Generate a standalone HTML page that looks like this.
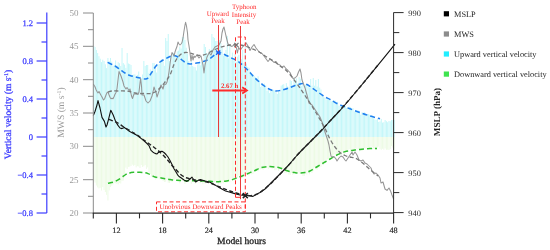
<!DOCTYPE html>
<html><head><meta charset="utf-8"><title>chart</title>
<style>html,body{margin:0;padding:0;background:#fff;}svg{display:block;}text{text-rendering:geometricPrecision;}</style>
</head><body>
<svg width="550" height="250" viewBox="0 0 550 250"><rect width="550" height="250" fill="#fff"/><g fill="#c4f7f9"><rect x="93.30" y="46.0" width="1.00" height="91.0"/><rect x="94.58" y="47.0" width="1.00" height="90.0"/><rect x="95.87" y="50.0" width="1.00" height="87.0"/><rect x="97.15" y="53.0" width="1.00" height="84.0"/><rect x="98.43" y="56.2" width="1.00" height="80.8"/><rect x="99.72" y="58.7" width="1.00" height="78.3"/><rect x="101.00" y="62.1" width="1.00" height="74.9"/><rect x="102.28" y="59.7" width="1.00" height="77.3"/><rect x="103.57" y="61.0" width="1.00" height="76.0"/><rect x="104.85" y="64.3" width="1.00" height="72.7"/><rect x="106.13" y="68.1" width="1.00" height="68.9"/><rect x="107.42" y="58.0" width="1.00" height="79.0"/><rect x="108.70" y="61.1" width="1.00" height="75.9"/><rect x="109.98" y="58.0" width="1.00" height="79.0"/><rect x="111.27" y="61.6" width="1.00" height="75.4"/><rect x="112.55" y="65.8" width="1.00" height="71.2"/><rect x="113.83" y="64.9" width="1.00" height="72.1"/><rect x="115.12" y="60.4" width="1.00" height="76.6"/><rect x="116.40" y="65.7" width="1.00" height="71.3"/><rect x="117.68" y="62.2" width="1.00" height="74.8"/><rect x="118.97" y="63.2" width="1.00" height="73.8"/><rect x="120.25" y="66.0" width="1.00" height="71.0"/><rect x="121.53" y="48.0" width="1.00" height="89.0"/><rect x="122.82" y="63.1" width="1.00" height="73.9"/><rect x="124.10" y="64.6" width="1.00" height="72.4"/><rect x="125.38" y="67.9" width="1.00" height="69.1"/><rect x="126.67" y="53.0" width="1.00" height="84.0"/><rect x="127.95" y="63.5" width="1.00" height="73.5"/><rect x="129.23" y="64.0" width="1.00" height="73.0"/><rect x="130.52" y="65.0" width="1.00" height="72.0"/><rect x="131.80" y="74.9" width="1.00" height="62.1"/><rect x="133.08" y="74.6" width="1.00" height="62.4"/><rect x="134.37" y="74.3" width="1.00" height="62.7"/><rect x="135.65" y="77.4" width="1.00" height="59.6"/><rect x="136.93" y="74.9" width="1.00" height="62.1"/><rect x="138.22" y="71.5" width="1.00" height="65.5"/><rect x="139.50" y="76.8" width="1.00" height="60.2"/><rect x="140.78" y="78.4" width="1.00" height="58.6"/><rect x="142.07" y="74.5" width="1.00" height="62.5"/><rect x="143.35" y="61.0" width="1.00" height="76.0"/><rect x="144.63" y="66.0" width="1.00" height="71.0"/><rect x="145.92" y="65.0" width="1.00" height="72.0"/><rect x="147.20" y="65.0" width="1.00" height="72.0"/><rect x="148.48" y="72.9" width="1.00" height="64.1"/><rect x="149.77" y="69.5" width="1.00" height="67.5"/><rect x="151.05" y="72.7" width="1.00" height="64.3"/><rect x="152.33" y="63.0" width="1.00" height="74.0"/><rect x="153.62" y="63.0" width="1.00" height="74.0"/><rect x="154.90" y="68.0" width="1.00" height="69.0"/><rect x="156.18" y="72.5" width="1.00" height="64.5"/><rect x="157.47" y="64.6" width="1.00" height="72.4"/><rect x="158.75" y="63.9" width="1.00" height="73.1"/><rect x="160.03" y="61.0" width="1.00" height="76.0"/><rect x="161.32" y="59.2" width="1.00" height="77.8"/><rect x="162.60" y="61.5" width="1.00" height="75.5"/><rect x="163.88" y="65.8" width="1.00" height="71.2"/><rect x="165.17" y="38.0" width="1.00" height="99.0"/><rect x="166.45" y="41.0" width="1.00" height="96.0"/><rect x="167.73" y="34.0" width="1.00" height="103.0"/><rect x="169.02" y="61.2" width="1.00" height="75.8"/><rect x="170.30" y="56.4" width="1.00" height="80.6"/><rect x="171.58" y="53.5" width="1.00" height="83.5"/><rect x="172.87" y="52.9" width="1.00" height="84.1"/><rect x="174.15" y="53.9" width="1.00" height="83.1"/><rect x="175.43" y="54.7" width="1.00" height="82.3"/><rect x="176.72" y="51.3" width="1.00" height="85.7"/><rect x="178.00" y="50.6" width="1.00" height="86.4"/><rect x="179.28" y="46.5" width="1.00" height="90.5"/><rect x="180.57" y="48.5" width="1.00" height="88.5"/><rect x="181.85" y="37.0" width="1.00" height="100.0"/><rect x="183.13" y="37.0" width="1.00" height="100.0"/><rect x="184.42" y="40.0" width="1.00" height="97.0"/><rect x="185.70" y="47.7" width="1.00" height="89.3"/><rect x="186.98" y="53.9" width="1.00" height="83.1"/><rect x="188.27" y="60.9" width="1.00" height="76.1"/><rect x="189.55" y="66.5" width="1.00" height="70.5"/><rect x="190.83" y="60.5" width="1.00" height="76.5"/><rect x="192.12" y="66.1" width="1.00" height="70.9"/><rect x="193.40" y="66.8" width="1.00" height="70.2"/><rect x="194.68" y="67.3" width="1.00" height="69.7"/><rect x="195.97" y="70.5" width="1.00" height="66.5"/><rect x="197.25" y="64.5" width="1.00" height="72.5"/><rect x="198.53" y="63.0" width="1.00" height="74.0"/><rect x="199.82" y="65.3" width="1.00" height="71.7"/><rect x="201.10" y="61.6" width="1.00" height="75.4"/><rect x="202.38" y="64.0" width="1.00" height="73.0"/><rect x="203.67" y="44.0" width="1.00" height="93.0"/><rect x="204.95" y="47.0" width="1.00" height="90.0"/><rect x="206.23" y="53.4" width="1.00" height="83.6"/><rect x="207.52" y="53.2" width="1.00" height="83.8"/><rect x="208.80" y="49.0" width="1.00" height="88.0"/><rect x="210.08" y="50.1" width="1.00" height="86.9"/><rect x="211.37" y="34.0" width="1.00" height="103.0"/><rect x="212.65" y="37.0" width="1.00" height="100.0"/><rect x="213.93" y="38.0" width="1.00" height="99.0"/><rect x="215.22" y="41.0" width="1.00" height="96.0"/><rect x="216.50" y="41.0" width="1.00" height="96.0"/><rect x="217.78" y="51.6" width="1.00" height="85.4"/><rect x="219.07" y="40.0" width="1.00" height="97.0"/><rect x="220.35" y="43.0" width="1.00" height="94.0"/><rect x="221.63" y="47.6" width="1.00" height="89.4"/><rect x="222.92" y="55.6" width="1.00" height="81.4"/><rect x="224.20" y="54.6" width="1.00" height="82.4"/><rect x="225.48" y="50.0" width="1.00" height="87.0"/><rect x="226.77" y="36.0" width="1.00" height="101.0"/><rect x="228.05" y="58.2" width="1.00" height="78.8"/><rect x="229.33" y="46.0" width="1.00" height="91.0"/><rect x="230.62" y="57.2" width="1.00" height="79.8"/><rect x="231.90" y="52.6" width="1.00" height="84.4"/><rect x="233.18" y="60.4" width="1.00" height="76.6"/><rect x="234.47" y="54.3" width="1.00" height="82.7"/><rect x="235.75" y="62.1" width="1.00" height="74.9"/><rect x="237.03" y="56.7" width="1.00" height="80.3"/><rect x="238.32" y="54.9" width="1.00" height="82.1"/><rect x="239.60" y="62.8" width="1.00" height="74.2"/><rect x="240.88" y="59.3" width="1.00" height="77.7"/><rect x="242.17" y="50.0" width="1.00" height="87.0"/><rect x="243.45" y="63.0" width="1.00" height="74.0"/><rect x="244.73" y="45.0" width="1.00" height="92.0"/><rect x="246.02" y="63.5" width="1.00" height="73.5"/><rect x="247.30" y="66.8" width="1.00" height="70.2"/><rect x="248.58" y="67.8" width="1.00" height="69.2"/><rect x="249.87" y="71.5" width="1.00" height="65.5"/><rect x="251.15" y="74.6" width="1.00" height="62.4"/><rect x="252.43" y="74.1" width="1.00" height="62.9"/><rect x="253.72" y="75.9" width="1.00" height="61.1"/><rect x="255.00" y="77.4" width="1.00" height="59.6"/><rect x="256.28" y="78.3" width="1.00" height="58.7"/><rect x="257.57" y="76.2" width="1.00" height="60.8"/><rect x="258.85" y="80.3" width="1.00" height="56.7"/><rect x="260.13" y="86.9" width="1.00" height="50.1"/><rect x="261.42" y="84.1" width="1.00" height="52.9"/><rect x="262.70" y="86.9" width="1.00" height="50.1"/><rect x="263.98" y="83.6" width="1.00" height="53.4"/><rect x="265.27" y="85.5" width="1.00" height="51.5"/><rect x="266.55" y="90.8" width="1.00" height="46.2"/><rect x="267.83" y="89.4" width="1.00" height="47.6"/><rect x="269.12" y="93.1" width="1.00" height="43.9"/><rect x="270.40" y="90.7" width="1.00" height="46.3"/><rect x="271.68" y="90.0" width="1.00" height="47.0"/><rect x="272.97" y="89.8" width="1.00" height="47.2"/><rect x="274.25" y="90.3" width="1.00" height="46.7"/><rect x="275.53" y="92.1" width="1.00" height="44.9"/><rect x="276.82" y="94.0" width="1.00" height="43.0"/><rect x="278.10" y="90.3" width="1.00" height="46.7"/><rect x="279.38" y="92.6" width="1.00" height="44.4"/><rect x="280.67" y="85.6" width="1.00" height="51.4"/><rect x="281.95" y="84.7" width="1.00" height="52.3"/><rect x="283.23" y="84.2" width="1.00" height="52.8"/><rect x="284.52" y="90.0" width="1.00" height="47.0"/><rect x="285.80" y="83.1" width="1.00" height="53.9"/><rect x="287.08" y="86.4" width="1.00" height="50.6"/><rect x="288.37" y="87.1" width="1.00" height="49.9"/><rect x="289.65" y="79.9" width="1.00" height="57.1"/><rect x="290.93" y="81.0" width="1.00" height="56.0"/><rect x="292.22" y="85.8" width="1.00" height="51.2"/><rect x="293.50" y="77.9" width="1.00" height="59.1"/><rect x="294.78" y="80.8" width="1.00" height="56.2"/><rect x="296.07" y="78.4" width="1.00" height="58.6"/><rect x="297.35" y="83.6" width="1.00" height="53.4"/><rect x="298.63" y="77.0" width="1.00" height="60.0"/><rect x="299.92" y="78.7" width="1.00" height="58.3"/><rect x="301.20" y="85.9" width="1.00" height="51.1"/><rect x="302.48" y="82.6" width="1.00" height="54.4"/><rect x="303.77" y="89.9" width="1.00" height="47.1"/><rect x="305.05" y="84.6" width="1.00" height="52.4"/><rect x="306.33" y="84.4" width="1.00" height="52.6"/><rect x="307.62" y="86.4" width="1.00" height="50.6"/><rect x="308.90" y="87.8" width="1.00" height="49.2"/><rect x="310.18" y="79.0" width="1.00" height="58.0"/><rect x="311.47" y="85.7" width="1.00" height="51.3"/><rect x="312.75" y="78.0" width="1.00" height="59.0"/><rect x="314.03" y="85.7" width="1.00" height="51.3"/><rect x="315.32" y="80.0" width="1.00" height="57.0"/><rect x="316.60" y="86.5" width="1.00" height="50.5"/><rect x="317.88" y="79.0" width="1.00" height="58.0"/><rect x="319.17" y="87.6" width="1.00" height="49.4"/><rect x="320.45" y="89.5" width="1.00" height="47.5"/><rect x="321.73" y="95.5" width="1.00" height="41.5"/><rect x="323.02" y="97.2" width="1.00" height="39.8"/><rect x="324.30" y="97.4" width="1.00" height="39.6"/><rect x="325.58" y="99.6" width="1.00" height="37.4"/><rect x="326.87" y="98.1" width="1.00" height="38.9"/><rect x="328.15" y="98.0" width="1.00" height="39.0"/><rect x="329.43" y="99.2" width="1.00" height="37.8"/><rect x="330.72" y="101.4" width="1.00" height="35.6"/><rect x="332.00" y="100.8" width="1.00" height="36.2"/><rect x="333.28" y="100.5" width="1.00" height="36.5"/><rect x="334.57" y="100.5" width="1.00" height="36.5"/><rect x="335.85" y="103.2" width="1.00" height="33.8"/><rect x="337.13" y="101.8" width="1.00" height="35.2"/><rect x="338.42" y="105.6" width="1.00" height="31.4"/><rect x="339.70" y="105.9" width="1.00" height="31.1"/><rect x="340.98" y="105.1" width="1.00" height="31.9"/><rect x="342.27" y="105.2" width="1.00" height="31.8"/><rect x="343.55" y="106.9" width="1.00" height="30.1"/><rect x="344.83" y="106.0" width="1.00" height="31.0"/><rect x="346.12" y="108.0" width="1.00" height="29.0"/><rect x="347.40" y="107.3" width="1.00" height="29.7"/><rect x="348.68" y="106.4" width="1.00" height="30.6"/><rect x="349.97" y="107.0" width="1.00" height="30.0"/><rect x="351.25" y="108.2" width="1.00" height="28.8"/><rect x="352.53" y="108.1" width="1.00" height="28.9"/><rect x="353.82" y="111.7" width="1.00" height="25.3"/><rect x="355.10" y="109.9" width="1.00" height="27.1"/><rect x="356.38" y="110.4" width="1.00" height="26.6"/><rect x="357.67" y="110.4" width="1.00" height="26.6"/><rect x="358.95" y="111.3" width="1.00" height="25.7"/><rect x="360.23" y="114.7" width="1.00" height="22.3"/><rect x="361.52" y="112.3" width="1.00" height="24.7"/><rect x="362.80" y="113.1" width="1.00" height="23.9"/><rect x="364.08" y="112.3" width="1.00" height="24.7"/><rect x="365.37" y="114.7" width="1.00" height="22.3"/><rect x="366.65" y="114.2" width="1.00" height="22.8"/><rect x="367.93" y="113.9" width="1.00" height="23.1"/><rect x="369.22" y="114.7" width="1.00" height="22.3"/><rect x="370.50" y="115.1" width="1.00" height="21.9"/><rect x="371.78" y="116.6" width="1.00" height="20.4"/><rect x="373.07" y="118.3" width="1.00" height="18.7"/><rect x="374.35" y="119.4" width="1.00" height="17.6"/><rect x="375.63" y="119.8" width="1.00" height="17.2"/><rect x="376.92" y="119.0" width="1.00" height="18.0"/><rect x="378.20" y="121.9" width="1.00" height="15.1"/><rect x="379.48" y="121.4" width="1.00" height="15.6"/><rect x="380.77" y="118.9" width="1.00" height="18.1"/><rect x="382.05" y="122.6" width="1.00" height="14.4"/><rect x="383.33" y="122.2" width="1.00" height="14.8"/><rect x="384.62" y="120.0" width="1.00" height="17.0"/><rect x="385.90" y="121.2" width="1.00" height="15.8"/><rect x="387.18" y="122.2" width="1.00" height="14.8"/><rect x="388.47" y="121.0" width="1.00" height="16.0"/><rect x="389.75" y="121.3" width="1.00" height="15.7"/><rect x="391.03" y="119.9" width="1.00" height="17.1"/><rect x="392.32" y="120.0" width="1.00" height="17.0"/><rect x="393.60" y="119.9" width="1.00" height="17.1"/></g><g fill="#edfbe5"><rect x="93.30" y="137.0" width="1.00" height="44.2"/><rect x="94.58" y="137.0" width="1.00" height="45.6"/><rect x="95.87" y="137.0" width="1.00" height="48.5"/><rect x="97.15" y="137.0" width="1.00" height="50.4"/><rect x="98.43" y="137.0" width="1.00" height="51.4"/><rect x="99.72" y="137.0" width="1.00" height="50.8"/><rect x="101.00" y="137.0" width="1.00" height="53.5"/><rect x="102.28" y="137.0" width="1.00" height="50.1"/><rect x="103.57" y="137.0" width="1.00" height="53.0"/><rect x="104.85" y="137.0" width="1.00" height="55.0"/><rect x="106.13" y="137.0" width="1.00" height="57.9"/><rect x="107.42" y="137.0" width="1.00" height="63.5"/><rect x="108.70" y="137.0" width="1.00" height="53.4"/><rect x="109.98" y="137.0" width="1.00" height="50.1"/><rect x="111.27" y="137.0" width="1.00" height="48.7"/><rect x="112.55" y="137.0" width="1.00" height="47.4"/><rect x="113.83" y="137.0" width="1.00" height="45.7"/><rect x="115.12" y="137.0" width="1.00" height="46.2"/><rect x="116.40" y="137.0" width="1.00" height="46.9"/><rect x="117.68" y="137.0" width="1.00" height="47.4"/><rect x="118.97" y="137.0" width="1.00" height="45.9"/><rect x="120.25" y="137.0" width="1.00" height="46.5"/><rect x="121.53" y="137.0" width="1.00" height="44.0"/><rect x="122.82" y="137.0" width="1.00" height="43.5"/><rect x="124.10" y="137.0" width="1.00" height="37.1"/><rect x="125.38" y="137.0" width="1.00" height="30.6"/><rect x="126.67" y="137.0" width="1.00" height="32.0"/><rect x="127.95" y="137.0" width="1.00" height="29.9"/><rect x="129.23" y="137.0" width="1.00" height="29.7"/><rect x="130.52" y="137.0" width="1.00" height="29.0"/><rect x="131.80" y="137.0" width="1.00" height="27.7"/><rect x="133.08" y="137.0" width="1.00" height="28.8"/><rect x="134.37" y="137.0" width="1.00" height="28.1"/><rect x="135.65" y="137.0" width="1.00" height="30.4"/><rect x="136.93" y="137.0" width="1.00" height="29.2"/><rect x="138.22" y="137.0" width="1.00" height="29.5"/><rect x="139.50" y="137.0" width="1.00" height="31.0"/><rect x="140.78" y="137.0" width="1.00" height="28.0"/><rect x="142.07" y="137.0" width="1.00" height="30.0"/><rect x="143.35" y="137.0" width="1.00" height="29.3"/><rect x="144.63" y="137.0" width="1.00" height="28.1"/><rect x="145.92" y="137.0" width="1.00" height="31.9"/><rect x="147.20" y="137.0" width="1.00" height="30.4"/><rect x="148.48" y="137.0" width="1.00" height="35.9"/><rect x="149.77" y="137.0" width="1.00" height="36.7"/><rect x="151.05" y="137.0" width="1.00" height="39.7"/><rect x="152.33" y="137.0" width="1.00" height="40.7"/><rect x="153.62" y="137.0" width="1.00" height="39.7"/><rect x="154.90" y="137.0" width="1.00" height="42.6"/><rect x="156.18" y="137.0" width="1.00" height="39.9"/><rect x="157.47" y="137.0" width="1.00" height="40.7"/><rect x="158.75" y="137.0" width="1.00" height="42.4"/><rect x="160.03" y="137.0" width="1.00" height="41.8"/><rect x="161.32" y="137.0" width="1.00" height="42.9"/><rect x="162.60" y="137.0" width="1.00" height="44.0"/><rect x="163.88" y="137.0" width="1.00" height="44.9"/><rect x="165.17" y="137.0" width="1.00" height="44.8"/><rect x="166.45" y="137.0" width="1.00" height="42.4"/><rect x="167.73" y="137.0" width="1.00" height="45.8"/><rect x="169.02" y="137.0" width="1.00" height="46.0"/><rect x="170.30" y="137.0" width="1.00" height="44.2"/><rect x="171.58" y="137.0" width="1.00" height="45.1"/><rect x="172.87" y="137.0" width="1.00" height="42.5"/><rect x="174.15" y="137.0" width="1.00" height="42.8"/><rect x="175.43" y="137.0" width="1.00" height="42.3"/><rect x="176.72" y="137.0" width="1.00" height="42.9"/><rect x="178.00" y="137.0" width="1.00" height="44.0"/><rect x="179.28" y="137.0" width="1.00" height="46.4"/><rect x="180.57" y="137.0" width="1.00" height="43.2"/><rect x="181.85" y="137.0" width="1.00" height="44.1"/><rect x="183.13" y="137.0" width="1.00" height="43.1"/><rect x="184.42" y="137.0" width="1.00" height="47.0"/><rect x="185.70" y="137.0" width="1.00" height="44.7"/><rect x="186.98" y="137.0" width="1.00" height="43.0"/><rect x="188.27" y="137.0" width="1.00" height="43.7"/><rect x="189.55" y="137.0" width="1.00" height="43.2"/><rect x="190.83" y="137.0" width="1.00" height="46.8"/><rect x="192.12" y="137.0" width="1.00" height="43.2"/><rect x="193.40" y="137.0" width="1.00" height="42.6"/><rect x="194.68" y="137.0" width="1.00" height="46.9"/><rect x="195.97" y="137.0" width="1.00" height="45.6"/><rect x="197.25" y="137.0" width="1.00" height="44.2"/><rect x="198.53" y="137.0" width="1.00" height="46.0"/><rect x="199.82" y="137.0" width="1.00" height="46.0"/><rect x="201.10" y="137.0" width="1.00" height="43.7"/><rect x="202.38" y="137.0" width="1.00" height="47.2"/><rect x="203.67" y="137.0" width="1.00" height="46.5"/><rect x="204.95" y="137.0" width="1.00" height="46.4"/><rect x="206.23" y="137.0" width="1.00" height="45.5"/><rect x="207.52" y="137.0" width="1.00" height="43.4"/><rect x="208.80" y="137.0" width="1.00" height="44.7"/><rect x="210.08" y="137.0" width="1.00" height="46.6"/><rect x="211.37" y="137.0" width="1.00" height="45.5"/><rect x="212.65" y="137.0" width="1.00" height="47.9"/><rect x="213.93" y="137.0" width="1.00" height="45.1"/><rect x="215.22" y="137.0" width="1.00" height="44.5"/><rect x="216.50" y="137.0" width="1.00" height="44.4"/><rect x="217.78" y="137.0" width="1.00" height="47.6"/><rect x="219.07" y="137.0" width="1.00" height="45.7"/><rect x="220.35" y="137.0" width="1.00" height="46.9"/><rect x="221.63" y="137.0" width="1.00" height="46.0"/><rect x="222.92" y="137.0" width="1.00" height="46.3"/><rect x="224.20" y="137.0" width="1.00" height="44.7"/><rect x="225.48" y="137.0" width="1.00" height="45.8"/><rect x="226.77" y="137.0" width="1.00" height="45.4"/><rect x="228.05" y="137.0" width="1.00" height="43.2"/><rect x="229.33" y="137.0" width="1.00" height="45.3"/><rect x="230.62" y="137.0" width="1.00" height="41.4"/><rect x="231.90" y="137.0" width="1.00" height="41.0"/><rect x="233.18" y="137.0" width="1.00" height="43.5"/><rect x="234.47" y="137.0" width="1.00" height="43.2"/><rect x="235.75" y="137.0" width="1.00" height="42.1"/><rect x="237.03" y="137.0" width="1.00" height="41.2"/><rect x="238.32" y="137.0" width="1.00" height="38.4"/><rect x="239.60" y="137.0" width="1.00" height="40.9"/><rect x="240.88" y="137.0" width="1.00" height="41.6"/><rect x="242.17" y="137.0" width="1.00" height="40.9"/><rect x="243.45" y="137.0" width="1.00" height="37.4"/><rect x="244.73" y="137.0" width="1.00" height="37.2"/><rect x="246.02" y="137.0" width="1.00" height="38.0"/><rect x="247.30" y="137.0" width="1.00" height="36.8"/><rect x="248.58" y="137.0" width="1.00" height="38.5"/><rect x="249.87" y="137.0" width="1.00" height="35.9"/><rect x="251.15" y="137.0" width="1.00" height="37.4"/><rect x="252.43" y="137.0" width="1.00" height="37.0"/><rect x="253.72" y="137.0" width="1.00" height="34.7"/><rect x="255.00" y="137.0" width="1.00" height="31.9"/><rect x="256.28" y="137.0" width="1.00" height="32.1"/><rect x="257.57" y="137.0" width="1.00" height="34.4"/><rect x="258.85" y="137.0" width="1.00" height="32.4"/><rect x="260.13" y="137.0" width="1.00" height="32.4"/><rect x="261.42" y="137.0" width="1.00" height="31.9"/><rect x="262.70" y="137.0" width="1.00" height="32.9"/><rect x="263.98" y="137.0" width="1.00" height="31.6"/><rect x="265.27" y="137.0" width="1.00" height="30.2"/><rect x="266.55" y="137.0" width="1.00" height="31.1"/><rect x="267.83" y="137.0" width="1.00" height="32.1"/><rect x="269.12" y="137.0" width="1.00" height="30.5"/><rect x="270.40" y="137.0" width="1.00" height="30.9"/><rect x="271.68" y="137.0" width="1.00" height="31.8"/><rect x="272.97" y="137.0" width="1.00" height="31.2"/><rect x="274.25" y="137.0" width="1.00" height="33.2"/><rect x="275.53" y="137.0" width="1.00" height="33.2"/><rect x="276.82" y="137.0" width="1.00" height="30.6"/><rect x="278.10" y="137.0" width="1.00" height="34.0"/><rect x="279.38" y="137.0" width="1.00" height="30.6"/><rect x="280.67" y="137.0" width="1.00" height="32.5"/><rect x="281.95" y="137.0" width="1.00" height="32.1"/><rect x="283.23" y="137.0" width="1.00" height="34.5"/><rect x="284.52" y="137.0" width="1.00" height="36.0"/><rect x="285.80" y="137.0" width="1.00" height="35.6"/><rect x="287.08" y="137.0" width="1.00" height="33.4"/><rect x="288.37" y="137.0" width="1.00" height="37.5"/><rect x="289.65" y="137.0" width="1.00" height="37.8"/><rect x="290.93" y="137.0" width="1.00" height="36.0"/><rect x="292.22" y="137.0" width="1.00" height="37.8"/><rect x="293.50" y="137.0" width="1.00" height="36.2"/><rect x="294.78" y="137.0" width="1.00" height="36.1"/><rect x="296.07" y="137.0" width="1.00" height="36.1"/><rect x="297.35" y="137.0" width="1.00" height="34.9"/><rect x="298.63" y="137.0" width="1.00" height="36.9"/><rect x="299.92" y="137.0" width="1.00" height="36.5"/><rect x="301.20" y="137.0" width="1.00" height="37.1"/><rect x="302.48" y="137.0" width="1.00" height="39.1"/><rect x="303.77" y="137.0" width="1.00" height="38.9"/><rect x="305.05" y="137.0" width="1.00" height="35.5"/><rect x="306.33" y="137.0" width="1.00" height="37.5"/><rect x="307.62" y="137.0" width="1.00" height="34.1"/><rect x="308.90" y="137.0" width="1.00" height="37.3"/><rect x="310.18" y="137.0" width="1.00" height="33.8"/><rect x="311.47" y="137.0" width="1.00" height="36.0"/><rect x="312.75" y="137.0" width="1.00" height="34.2"/><rect x="314.03" y="137.0" width="1.00" height="30.5"/><rect x="315.32" y="137.0" width="1.00" height="31.3"/><rect x="316.60" y="137.0" width="1.00" height="32.8"/><rect x="317.88" y="137.0" width="1.00" height="31.2"/><rect x="319.17" y="137.0" width="1.00" height="30.6"/><rect x="320.45" y="137.0" width="1.00" height="29.7"/><rect x="321.73" y="137.0" width="1.00" height="26.5"/><rect x="323.02" y="137.0" width="1.00" height="28.2"/><rect x="324.30" y="137.0" width="1.00" height="23.7"/><rect x="325.58" y="137.0" width="1.00" height="23.4"/><rect x="326.87" y="137.0" width="1.00" height="22.3"/><rect x="328.15" y="137.0" width="1.00" height="21.7"/><rect x="329.43" y="137.0" width="1.00" height="21.4"/><rect x="330.72" y="137.0" width="1.00" height="20.6"/><rect x="332.00" y="137.0" width="1.00" height="19.3"/><rect x="333.28" y="137.0" width="1.00" height="17.8"/><rect x="334.57" y="137.0" width="1.00" height="17.0"/><rect x="335.85" y="137.0" width="1.00" height="18.8"/><rect x="337.13" y="137.0" width="1.00" height="17.8"/><rect x="338.42" y="137.0" width="1.00" height="15.5"/><rect x="339.70" y="137.0" width="1.00" height="16.4"/><rect x="340.98" y="137.0" width="1.00" height="17.7"/><rect x="342.27" y="137.0" width="1.00" height="15.7"/><rect x="343.55" y="137.0" width="1.00" height="17.3"/><rect x="344.83" y="137.0" width="1.00" height="16.2"/><rect x="346.12" y="137.0" width="1.00" height="15.0"/><rect x="347.40" y="137.0" width="1.00" height="13.5"/><rect x="348.68" y="137.0" width="1.00" height="12.2"/><rect x="349.97" y="137.0" width="1.00" height="14.7"/><rect x="351.25" y="137.0" width="1.00" height="11.9"/><rect x="352.53" y="137.0" width="1.00" height="14.7"/><rect x="353.82" y="137.0" width="1.00" height="13.7"/><rect x="355.10" y="137.0" width="1.00" height="11.5"/><rect x="356.38" y="137.0" width="1.00" height="12.4"/><rect x="357.67" y="137.0" width="1.00" height="12.2"/><rect x="358.95" y="137.0" width="1.00" height="14.4"/><rect x="360.23" y="137.0" width="1.00" height="12.4"/><rect x="361.52" y="137.0" width="1.00" height="14.1"/><rect x="362.80" y="137.0" width="1.00" height="11.3"/><rect x="364.08" y="137.0" width="1.00" height="11.3"/><rect x="365.37" y="137.0" width="1.00" height="11.7"/><rect x="366.65" y="137.0" width="1.00" height="11.6"/><rect x="367.93" y="137.0" width="1.00" height="10.3"/><rect x="369.22" y="137.0" width="1.00" height="10.8"/><rect x="370.50" y="137.0" width="1.00" height="9.1"/><rect x="371.78" y="137.0" width="1.00" height="10.0"/><rect x="373.07" y="137.0" width="1.00" height="11.4"/><rect x="374.35" y="137.0" width="1.00" height="12.0"/><rect x="375.63" y="137.0" width="1.00" height="13.0"/><rect x="376.92" y="137.0" width="1.00" height="10.5"/><rect x="378.20" y="137.0" width="1.00" height="9.7"/><rect x="379.48" y="137.0" width="1.00" height="11.9"/><rect x="380.77" y="137.0" width="1.00" height="12.8"/><rect x="382.05" y="137.0" width="1.00" height="11.8"/><rect x="383.33" y="137.0" width="1.00" height="12.7"/><rect x="384.62" y="137.0" width="1.00" height="11.4"/><rect x="385.90" y="137.0" width="1.00" height="12.8"/><rect x="387.18" y="137.0" width="1.00" height="12.7"/><rect x="388.47" y="137.0" width="1.00" height="13.0"/><rect x="389.75" y="137.0" width="1.00" height="12.1"/><rect x="391.03" y="137.0" width="1.00" height="9.1"/><rect x="392.32" y="137.0" width="1.00" height="10.6"/><rect x="393.60" y="137.0" width="1.00" height="12.8"/></g><path d="M107.6,62.4 C108.8,63.0 112.9,64.8 115.0,66.0 C117.1,67.2 118.3,68.3 120.0,69.5 C121.7,70.7 123.3,72.0 125.0,73.0 C126.7,74.0 128.3,74.9 130.0,75.5 C131.7,76.1 133.3,76.4 135.0,76.8 C136.7,77.2 138.3,77.6 140.0,78.0 C141.7,78.4 143.7,79.0 145.0,79.0 C146.3,79.0 146.8,79.2 148.0,78.0 C149.2,76.8 150.7,74.0 152.0,72.0 C153.3,70.0 154.7,67.7 156.0,66.0 C157.3,64.3 158.5,63.2 160.0,62.0 C161.5,60.8 163.3,59.9 165.0,59.0 C166.7,58.1 168.5,57.1 170.0,56.5 C171.5,55.9 172.7,55.4 174.0,55.5 C175.3,55.6 176.7,56.2 178.0,57.0 C179.3,57.8 180.7,59.0 182.0,60.0 C183.3,61.0 184.7,62.3 186.0,63.0 C187.3,63.7 188.5,64.0 190.0,64.0 C191.5,64.0 193.3,63.6 195.0,63.3 C196.7,63.0 198.3,62.8 200.0,62.4 C201.7,62.0 203.3,61.6 205.0,61.0 C206.7,60.4 208.3,59.6 210.0,58.5 C211.7,57.4 213.7,55.5 215.0,54.5 C216.3,53.5 216.8,52.7 218.0,52.5 C219.2,52.3 220.5,52.8 222.0,53.3 C223.5,53.8 225.3,55.0 227.0,55.8 C228.7,56.6 230.3,57.5 232.0,58.3 C233.7,59.1 235.7,60.0 237.0,60.8 C238.3,61.5 239.0,62.0 240.0,62.8 C241.0,63.6 241.8,64.4 243.0,65.5 C244.2,66.6 245.8,68.1 247.0,69.3 C248.2,70.5 248.7,71.0 250.0,72.5 C251.3,74.0 253.3,76.3 255.0,78.0 C256.7,79.7 258.3,81.1 260.0,82.5 C261.7,83.9 263.3,85.3 265.0,86.5 C266.7,87.7 268.3,88.8 270.0,89.5 C271.7,90.2 273.3,90.8 275.0,91.0 C276.7,91.2 278.3,90.9 280.0,90.6 C281.7,90.3 283.3,89.8 285.0,89.3 C286.7,88.8 288.3,88.1 290.0,87.5 C291.7,86.9 293.3,86.1 295.0,85.5 C296.7,84.9 298.7,84.3 300.0,84.0 C301.3,83.7 301.8,83.4 303.0,83.5 C304.2,83.6 305.8,84.0 307.0,84.5 C308.2,85.0 308.7,85.6 310.0,86.5 C311.3,87.4 313.3,88.8 315.0,90.0 C316.7,91.2 318.3,92.3 320.0,93.5 C321.7,94.7 323.3,96.0 325.0,97.0 C326.7,98.0 328.0,98.2 330.0,99.3 C332.0,100.4 334.5,102.2 337.0,103.5 C339.5,104.8 342.8,105.9 345.0,106.8 C347.2,107.7 347.5,107.8 350.0,108.8 C352.5,109.8 356.7,111.4 360.0,112.6 C363.3,113.8 366.7,115.0 370.0,116.0 C373.3,117.0 378.3,118.3 380.0,118.8" fill="none" stroke="#1f7fef" stroke-width="1.5" stroke-dasharray="5 3"/><path d="M108.0,183.2 C109.2,182.9 112.8,182.4 115.0,181.5 C117.2,180.6 119.3,179.1 121.0,178.0 C122.7,176.9 123.8,175.8 125.0,175.0 C126.2,174.2 127.0,173.7 128.0,173.3 C129.0,172.9 129.8,172.8 131.0,172.6 C132.2,172.4 133.5,172.4 135.0,172.3 C136.5,172.2 138.3,172.2 140.0,172.3 C141.7,172.4 143.7,172.6 145.0,172.8 C146.3,173.0 147.0,173.2 148.0,173.6 C149.0,174.0 149.8,174.4 151.0,175.0 C152.2,175.6 153.5,176.5 155.0,177.0 C156.5,177.5 158.3,177.5 160.0,177.8 C161.7,178.1 163.3,178.5 165.0,178.8 C166.7,179.1 168.3,179.4 170.0,179.6 C171.7,179.8 173.3,180.0 175.0,180.2 C176.7,180.3 178.2,180.4 180.0,180.5 C181.8,180.6 184.3,180.8 186.0,180.8 C187.7,180.9 188.5,180.8 190.0,180.8 C191.5,180.8 193.3,180.8 195.0,180.8 C196.7,180.8 198.3,180.9 200.0,180.9 C201.7,180.9 203.3,180.9 205.0,181.0 C206.7,181.1 208.3,181.2 210.0,181.3 C211.7,181.4 213.3,181.8 215.0,181.8 C216.7,181.9 218.3,181.7 220.0,181.6 C221.7,181.5 223.3,181.4 225.0,181.2 C226.7,181.0 228.3,180.6 230.0,180.2 C231.7,179.8 233.3,179.2 235.0,178.6 C236.7,178.0 238.3,177.4 240.0,176.8 C241.7,176.2 243.3,175.5 245.0,174.8 C246.7,174.1 248.3,173.3 250.0,172.6 C251.7,171.9 253.3,171.3 255.0,170.5 C256.7,169.7 258.3,168.6 260.0,168.0 C261.7,167.4 263.3,167.2 265.0,167.0 C266.7,166.8 268.3,166.6 270.0,166.6 C271.7,166.6 273.3,166.8 275.0,167.0 C276.7,167.2 278.3,167.5 280.0,168.0 C281.7,168.5 283.3,169.4 285.0,170.0 C286.7,170.6 288.3,171.2 290.0,171.6 C291.7,172.0 293.3,172.4 295.0,172.6 C296.7,172.8 298.3,173.0 300.0,173.0 C301.7,173.0 303.3,172.9 305.0,172.6 C306.7,172.3 308.3,171.8 310.0,171.0 C311.7,170.2 313.3,169.0 315.0,168.0 C316.7,167.0 318.3,166.0 320.0,165.0 C321.7,164.0 323.3,163.0 325.0,162.0 C326.7,161.0 328.3,160.0 330.0,159.0 C331.7,158.0 333.3,156.9 335.0,156.0 C336.7,155.1 338.3,154.3 340.0,153.6 C341.7,152.9 343.3,152.1 345.0,151.6 C346.7,151.1 348.3,150.9 350.0,150.6 C351.7,150.3 353.3,150.2 355.0,150.0 C356.7,149.8 358.3,149.6 360.0,149.4 C361.7,149.2 363.3,149.1 365.0,149.0 C366.7,148.9 368.3,148.7 370.0,148.6 C371.7,148.5 373.8,148.4 375.0,148.4 C376.2,148.4 376.7,148.4 377.0,148.4" fill="none" stroke="#2fbf2f" stroke-width="1.5" stroke-dasharray="5 3"/><path d="M93.3,84.0 L95.0,86.7 L96.0,89.5 L97.0,91.5 L98.0,92.9 L99.0,91.5 L100.0,93.4 L101.0,95.3 L102.0,97.0 L103.5,100.0 L104.5,99.0 L106.0,95.0 L107.0,92.6 L108.0,92.0 L109.0,94.8 L110.0,97.2 L111.0,98.7 L112.0,98.2 L113.0,98.7 L114.0,96.8 L115.0,94.3 L116.0,92.4 L117.0,88.6 L118.0,80.0 L119.0,71.5 L121.0,76.0 L123.0,82.0 L124.0,86.0 L126.0,89.0 L127.0,87.5 L129.0,90.5 L130.0,89.0 L131.5,96.0 L132.5,98.5 L134.0,94.0 L136.0,94.0 L138.0,94.5 L139.0,92.0 L140.0,83.0 L140.6,78.5 L141.5,86.0 L142.0,95.0 L144.0,95.0 L145.0,98.0 L146.0,101.0 L148.0,103.0 L150.0,101.0 L152.0,96.0 L153.0,92.0 L154.0,87.0 L155.0,90.0 L156.0,92.0 L157.0,97.0 L158.0,94.0 L160.0,88.0 L161.0,85.0 L163.0,89.0 L164.0,85.0 L166.0,84.0 L167.0,82.0 L168.0,78.0 L169.0,72.0 L170.0,64.0 L171.0,57.0 L172.0,52.5 L173.0,54.0 L174.0,56.0 L175.0,52.0 L176.0,49.0 L177.0,46.5 L178.0,42.0 L179.0,44.0 L180.0,45.0 L181.0,44.0 L182.0,42.5 L183.0,38.0 L184.0,31.0 L185.0,25.0 L185.6,22.3 L186.5,26.0 L187.5,33.0 L188.0,40.0 L189.0,46.0 L190.0,53.0 L191.0,61.0 L192.0,55.0 L193.0,60.0 L194.0,56.0 L195.0,57.4 L197.0,55.0 L199.0,58.0 L201.0,56.0 L203.0,65.0 L204.0,73.0 L205.0,65.0 L207.0,57.0 L209.0,53.0 L211.0,55.0 L213.0,50.0 L215.0,47.0 L217.0,46.0 L219.0,45.0 L221.0,41.0 L222.0,33.0 L223.0,29.0 L224.0,27.0 L226.0,36.0 L228.0,44.0 L230.0,45.5 L232.0,46.4 L234.4,44.6 L236.2,47.0 L237.4,53.0 L238.6,47.5 L240.4,50.0 L242.5,47.0 L244.5,45.0 L246.0,42.8 L248.0,46.0 L250.0,50.5 L252.0,47.0 L254.0,44.5 L256.0,48.0 L258.0,50.5 L260.0,52.5 L262.0,53.5 L264.0,56.0 L266.0,58.8 L268.0,61.5 L270.0,59.0 L272.0,60.6 L274.0,62.4 L276.0,61.5 L278.0,64.2 L280.0,65.0 L282.0,67.0 L284.0,66.0 L286.0,68.7 L288.0,70.5 L290.0,72.5 L291.5,76.0 L293.0,78.5 L295.0,78.0 L297.0,76.0 L298.5,72.0 L300.0,69.0 L301.0,73.0 L302.0,80.0 L303.5,84.0 L305.0,88.0 L307.0,95.0 L309.0,103.0 L312.0,105.0 L314.0,108.0 L316.0,111.0 L318.0,114.0 L320.0,117.0 L322.0,122.0 L324.0,129.0 L326.0,135.0 L328.0,141.0 L329.0,145.0 L330.0,151.0 L331.0,156.0 L332.0,157.0 L334.0,156.6 L336.0,159.0 L337.0,161.0 L339.0,158.0 L341.0,156.0 L343.0,157.0 L345.0,160.0 L346.0,161.0 L348.0,158.0 L350.0,155.0 L352.0,152.0 L353.0,155.0 L355.0,152.0 L357.0,155.0 L359.0,160.0 L361.0,161.0 L363.0,160.0 L365.0,163.0 L367.0,164.0 L369.0,166.0 L371.0,168.0 L372.0,171.0 L374.0,174.0 L376.0,173.0 L378.0,175.0 L380.0,178.0 L381.0,183.0 L383.0,182.0 L385.0,189.0 L387.0,190.4 L389.0,188.0 L390.8,191.6 L392.0,195.0 L393.6,199.0" fill="none" stroke="#969696" stroke-width="1.05" stroke-linejoin="round"/><path d="M108.0,92.0 C108.7,91.8 110.3,91.2 112.0,91.0 C113.7,90.8 115.8,91.0 118.0,91.0 C120.2,91.0 123.0,90.9 125.0,91.0 C127.0,91.1 128.3,91.2 130.0,91.5 C131.7,91.8 133.3,92.7 135.0,93.0 C136.7,93.3 138.3,93.4 140.0,93.5 C141.7,93.6 143.3,93.5 145.0,93.5 C146.7,93.5 148.3,93.8 150.0,93.6 C151.7,93.3 153.3,92.9 155.0,92.0 C156.7,91.1 158.3,89.7 160.0,88.0 C161.7,86.3 163.3,84.2 165.0,82.0 C166.7,79.8 168.3,78.3 170.0,75.0 C171.7,71.7 173.3,65.3 175.0,62.0 C176.7,58.7 178.3,56.6 180.0,55.0 C181.7,53.4 183.3,52.8 185.0,52.5 C186.7,52.2 188.3,52.7 190.0,53.0 C191.7,53.3 193.3,54.1 195.0,54.5 C196.7,54.9 198.3,55.5 200.0,55.5 C201.7,55.5 203.3,55.1 205.0,54.5 C206.7,53.9 208.3,52.8 210.0,52.0 C211.7,51.2 213.3,50.2 215.0,49.5 C216.7,48.8 218.3,48.1 220.0,47.5 C221.7,46.9 223.3,46.4 225.0,46.0 C226.7,45.6 228.3,45.2 230.0,45.0 C231.7,44.8 233.3,44.5 235.0,44.5 C236.7,44.5 238.3,44.8 240.0,45.0 C241.7,45.2 243.3,45.5 245.0,46.0 C246.7,46.5 248.3,47.3 250.0,48.0 C251.7,48.7 253.3,49.2 255.0,50.0 C256.7,50.8 258.3,51.5 260.0,52.5 C261.7,53.5 263.3,54.9 265.0,56.0 C266.7,57.1 268.3,58.0 270.0,59.0 C271.7,60.0 273.3,60.8 275.0,62.0 C276.7,63.2 278.3,64.8 280.0,66.0 C281.7,67.2 283.3,68.1 285.0,69.5 C286.7,70.9 288.3,72.6 290.0,74.5 C291.7,76.4 293.3,78.8 295.0,81.0 C296.7,83.2 298.3,85.6 300.0,88.0 C301.7,90.4 303.3,93.0 305.0,95.5 C306.7,98.0 308.3,100.4 310.0,103.0 C311.7,105.6 313.3,108.2 315.0,111.0 C316.7,113.8 318.3,116.6 320.0,119.5 C321.7,122.4 323.3,125.2 325.0,128.5 C326.7,131.8 328.3,135.9 330.0,139.0 C331.7,142.1 333.3,144.8 335.0,147.0 C336.7,149.2 338.3,151.1 340.0,152.5 C341.7,153.9 343.3,154.8 345.0,155.5 C346.7,156.2 348.3,156.6 350.0,157.0 C351.7,157.4 353.3,157.3 355.0,158.0 C356.7,158.7 358.3,159.8 360.0,161.0 C361.7,162.2 363.3,163.6 365.0,165.0 C366.7,166.4 368.3,168.1 370.0,169.5 C371.7,170.9 373.7,172.4 375.0,173.5 C376.3,174.6 377.5,175.6 378.0,176.0" fill="none" stroke="#7a7a7a" stroke-width="1.3" stroke-dasharray="4 2.5"/><path d="M93.3,115.5 L95.0,111.5 L97.0,105.0 L98.0,100.6 L100.0,108.0 L102.0,117.4 L104.4,121.4 L106.0,127.0 L107.0,125.0 L108.4,119.8 L110.8,110.2 L113.2,115.0 L115.6,121.4 L118.0,125.4 L120.0,128.0 L122.0,128.6 L124.4,127.5 L126.8,129.4 L129.0,131.0 L131.6,132.6 L134.0,133.8 L136.4,135.0 L138.0,136.0 L141.0,138.4 L144.0,140.8 L147.0,143.5 L149.0,145.6 L150.0,148.0 L151.0,150.4 L153.0,152.2 L155.0,153.4 L157.0,154.0 L158.0,152.8 L160.0,151.5 L162.0,151.3 L164.0,152.5 L166.0,154.5 L168.0,157.0 L170.0,160.5 L172.0,164.5 L174.0,168.8 L176.0,172.0 L177.6,174.8 L179.0,176.5 L181.0,177.8 L184.0,180.0 L187.0,181.4 L190.0,179.0 L192.0,177.2 L194.0,180.0 L195.6,182.0 L198.0,180.5 L200.4,179.6 L205.0,181.0 L210.0,182.3 L216.0,185.6 L220.0,188.0 L225.6,191.0 L230.0,192.3 L234.0,193.4 L240.0,195.0 L245.6,195.3 L250.0,196.0 L253.0,196.4 L256.0,194.5 L260.0,192.5 L265.0,189.0 L269.0,185.0 L274.0,180.0 L279.0,175.0 L284.0,170.0 L288.7,165.0 L293.0,160.0 L297.3,155.0 L302.0,150.0 L308.0,144.0 L315.0,137.0 L322.0,130.0 L330.0,121.0 L340.0,110.5 L350.0,99.0 L360.0,87.0 L370.0,74.8 L380.0,62.6 L390.0,50.4 L395.0,44.2" fill="none" stroke="#111" stroke-width="1.1" stroke-linejoin="round"/><path d="M109.0,119.3 C109.7,119.6 111.9,120.4 113.4,121.0 C114.9,121.6 116.4,122.1 118.0,123.0 C119.6,123.9 121.3,125.4 123.0,126.5 C124.7,127.6 126.3,128.5 128.0,129.5 C129.7,130.5 131.3,131.5 133.0,132.5 C134.7,133.5 136.3,134.3 138.0,135.5 C139.7,136.7 141.3,138.2 143.0,139.5 C144.7,140.8 146.3,141.8 148.0,143.0 C149.7,144.2 151.3,145.2 153.0,146.5 C154.7,147.8 156.3,149.1 158.0,150.5 C159.7,151.9 161.3,153.3 163.0,155.0 C164.7,156.7 166.5,158.8 168.0,160.5 C169.5,162.2 170.8,164.2 172.0,165.5 C173.2,166.8 173.7,167.0 175.0,168.4 C176.3,169.8 178.3,172.5 180.0,174.0 C181.7,175.5 183.3,176.4 185.0,177.2 C186.7,178.0 188.3,178.3 190.0,178.8 C191.7,179.3 193.3,179.7 195.0,180.0 C196.7,180.3 197.5,179.9 200.0,180.4 C202.5,180.9 206.7,181.9 210.0,183.0 C213.3,184.1 216.7,185.7 220.0,187.0 C223.3,188.3 226.7,189.8 230.0,191.0 C233.3,192.2 237.5,193.3 240.0,194.0 C242.5,194.7 243.3,194.7 245.0,195.0 C246.7,195.3 248.2,195.7 250.0,195.6 C251.8,195.5 254.3,195.0 256.0,194.5 C257.7,194.0 257.7,194.2 260.0,192.5 C262.3,190.8 266.7,187.4 270.0,184.3 C273.3,181.2 276.7,177.6 280.0,174.2 C283.3,170.8 286.7,167.3 290.0,163.6 C293.3,159.9 295.8,156.4 300.0,152.0 C304.2,147.6 310.0,142.2 315.0,137.0 C320.0,131.8 325.0,126.4 330.0,121.0 C335.0,115.6 340.0,110.2 345.0,104.5 C350.0,98.8 355.8,92.0 360.0,87.0 C364.2,82.0 367.0,78.5 370.0,74.8 C373.0,71.1 376.7,66.6 378.0,65.0" fill="none" stroke="#222" stroke-width="1.4" stroke-dasharray="4 2.5"/><line x1="218.5" y1="25" x2="218.5" y2="137" stroke="#e83c3c" stroke-width="1"/><line x1="240.5" y1="26" x2="240.5" y2="199.2" stroke="#e83c3c" stroke-width="1"/><path d="M235.5,197.3 L235.5,37 L245.3,37 L245.3,211.5" fill="none" stroke="#ff2b2b" stroke-width="1" stroke-dasharray="4 2.5"/><path d="M235.5,197.3 L240.8,197.3" fill="none" stroke="#ff2b2b" stroke-width="1"/><rect x="156.5" y="201.9" width="88.8" height="9.9" fill="none" stroke="#ff2b2b" stroke-width="1" stroke-dasharray="4 2.5"/><line x1="212.3" y1="90.4" x2="246" y2="90.4" stroke="#ff2b2b" stroke-width="2"/><path d="M242.2,87.3 L246.9,90.4 L242.2,93.5" fill="none" stroke="#ff2b2b" stroke-width="1.8"/><path d="M216.1,50.5 L220.3,54.7 M216.1,54.7 L220.3,50.5" stroke="#1f5fef" stroke-width="1.4" fill="none"/><path d="M234.3,42.9 L238.5,47.1 M234.3,47.1 L238.5,42.9" stroke="#777" stroke-width="1.3" fill="none"/><path d="M242.8,193.1 L247.8,198.1 M242.8,198.1 L247.8,193.1" stroke="#222" stroke-width="1.5" fill="none"/><line x1="46.8" y1="12.5" x2="46.8" y2="213" stroke="#3c3cff" stroke-width="1.2"/><line x1="36.6" y1="23.0" x2="46.8" y2="23.0" stroke="#3c3cff" stroke-width="1.2"/><line x1="36.6" y1="61.0" x2="46.8" y2="61.0" stroke="#3c3cff" stroke-width="1.2"/><line x1="36.6" y1="99.0" x2="46.8" y2="99.0" stroke="#3c3cff" stroke-width="1.2"/><line x1="36.6" y1="137.0" x2="46.8" y2="137.0" stroke="#3c3cff" stroke-width="1.2"/><line x1="36.6" y1="175.0" x2="46.8" y2="175.0" stroke="#3c3cff" stroke-width="1.2"/><line x1="36.6" y1="213.0" x2="46.8" y2="213.0" stroke="#3c3cff" stroke-width="1.2"/><line x1="41.5" y1="42.0" x2="46.8" y2="42.0" stroke="#3c3cff" stroke-width="1.2"/><line x1="41.5" y1="80.0" x2="46.8" y2="80.0" stroke="#3c3cff" stroke-width="1.2"/><line x1="41.5" y1="118.0" x2="46.8" y2="118.0" stroke="#3c3cff" stroke-width="1.2"/><line x1="41.5" y1="156.0" x2="46.8" y2="156.0" stroke="#3c3cff" stroke-width="1.2"/><line x1="41.5" y1="194.0" x2="46.8" y2="194.0" stroke="#3c3cff" stroke-width="1.2"/><line x1="93.3" y1="13" x2="93.3" y2="213" stroke="#8a8a8a" stroke-width="1"/><line x1="83" y1="213.0" x2="93.3" y2="213.0" stroke="#8a8a8a" stroke-width="1"/><line x1="83" y1="179.7" x2="93.3" y2="179.7" stroke="#8a8a8a" stroke-width="1"/><line x1="83" y1="146.3" x2="93.3" y2="146.3" stroke="#8a8a8a" stroke-width="1"/><line x1="83" y1="113.0" x2="93.3" y2="113.0" stroke="#8a8a8a" stroke-width="1"/><line x1="83" y1="79.7" x2="93.3" y2="79.7" stroke="#8a8a8a" stroke-width="1"/><line x1="83" y1="46.3" x2="93.3" y2="46.3" stroke="#8a8a8a" stroke-width="1"/><line x1="83" y1="13.0" x2="93.3" y2="13.0" stroke="#8a8a8a" stroke-width="1"/><line x1="88" y1="196.3" x2="93.3" y2="196.3" stroke="#8a8a8a" stroke-width="1"/><line x1="88" y1="163.0" x2="93.3" y2="163.0" stroke="#8a8a8a" stroke-width="1"/><line x1="88" y1="129.7" x2="93.3" y2="129.7" stroke="#8a8a8a" stroke-width="1"/><line x1="88" y1="96.3" x2="93.3" y2="96.3" stroke="#8a8a8a" stroke-width="1"/><line x1="88" y1="63.0" x2="93.3" y2="63.0" stroke="#8a8a8a" stroke-width="1"/><line x1="88" y1="29.7" x2="93.3" y2="29.7" stroke="#8a8a8a" stroke-width="1"/><line x1="393.6" y1="12.5" x2="393.6" y2="213" stroke="#2a2a2a" stroke-width="1"/><line x1="393.6" y1="212.6" x2="403.6" y2="212.6" stroke="#2a2a2a" stroke-width="1"/><line x1="393.6" y1="172.6" x2="403.6" y2="172.6" stroke="#2a2a2a" stroke-width="1"/><line x1="393.6" y1="132.6" x2="403.6" y2="132.6" stroke="#2a2a2a" stroke-width="1"/><line x1="393.6" y1="92.6" x2="403.6" y2="92.6" stroke="#2a2a2a" stroke-width="1"/><line x1="393.6" y1="52.6" x2="403.6" y2="52.6" stroke="#2a2a2a" stroke-width="1"/><line x1="393.6" y1="12.6" x2="403.6" y2="12.6" stroke="#2a2a2a" stroke-width="1"/><line x1="393.6" y1="192.6" x2="399.3" y2="192.6" stroke="#2a2a2a" stroke-width="1"/><line x1="393.6" y1="152.6" x2="399.3" y2="152.6" stroke="#2a2a2a" stroke-width="1"/><line x1="393.6" y1="112.6" x2="399.3" y2="112.6" stroke="#2a2a2a" stroke-width="1"/><line x1="393.6" y1="72.6" x2="399.3" y2="72.6" stroke="#2a2a2a" stroke-width="1"/><line x1="393.6" y1="32.6" x2="399.3" y2="32.6" stroke="#2a2a2a" stroke-width="1"/><line x1="92.8" y1="213.2" x2="394" y2="213.2" stroke="#2a2a2a" stroke-width="1.2"/><line x1="116.4" y1="213" x2="116.4" y2="223.5" stroke="#2a2a2a" stroke-width="1.1"/><line x1="162.6" y1="213" x2="162.6" y2="223.5" stroke="#2a2a2a" stroke-width="1.1"/><line x1="208.8" y1="213" x2="208.8" y2="223.5" stroke="#2a2a2a" stroke-width="1.1"/><line x1="255.0" y1="213" x2="255.0" y2="223.5" stroke="#2a2a2a" stroke-width="1.1"/><line x1="301.2" y1="213" x2="301.2" y2="223.5" stroke="#2a2a2a" stroke-width="1.1"/><line x1="347.4" y1="213" x2="347.4" y2="223.5" stroke="#2a2a2a" stroke-width="1.1"/><line x1="393.6" y1="213" x2="393.6" y2="223.5" stroke="#2a2a2a" stroke-width="1.1"/><line x1="93.3" y1="213" x2="93.3" y2="218.4" stroke="#2a2a2a" stroke-width="1.1"/><line x1="139.5" y1="213" x2="139.5" y2="218.4" stroke="#2a2a2a" stroke-width="1.1"/><line x1="185.7" y1="213" x2="185.7" y2="218.4" stroke="#2a2a2a" stroke-width="1.1"/><line x1="231.9" y1="213" x2="231.9" y2="218.4" stroke="#2a2a2a" stroke-width="1.1"/><line x1="278.1" y1="213" x2="278.1" y2="218.4" stroke="#2a2a2a" stroke-width="1.1"/><line x1="324.3" y1="213" x2="324.3" y2="218.4" stroke="#2a2a2a" stroke-width="1.1"/><line x1="370.5" y1="213" x2="370.5" y2="218.4" stroke="#2a2a2a" stroke-width="1.1"/><rect x="443.8" y="11.2" width="5.2" height="5.2" fill="#000000"/><rect x="443.8" y="31.4" width="5.2" height="5.2" fill="#8c8c8c"/><rect x="443.8" y="51.4" width="5.2" height="5.2" fill="#22eeff"/><rect x="443.8" y="71.5" width="5.2" height="5.2" fill="#3fe34f"/><text x="33.0" y="25.7" font-size="8.5" fill="#3c3cff" text-anchor="end" font-weight="normal" style="font-family:'Liberation Serif','Times New Roman',serif" stroke="#3c3cff" stroke-width="0.25">1.2</text><text x="33.0" y="63.7" font-size="8.5" fill="#3c3cff" text-anchor="end" font-weight="normal" style="font-family:'Liberation Serif','Times New Roman',serif" stroke="#3c3cff" stroke-width="0.25">0.8</text><text x="33.0" y="101.7" font-size="8.5" fill="#3c3cff" text-anchor="end" font-weight="normal" style="font-family:'Liberation Serif','Times New Roman',serif" stroke="#3c3cff" stroke-width="0.25">0.4</text><text x="33.0" y="139.7" font-size="8.5" fill="#3c3cff" text-anchor="end" font-weight="normal" style="font-family:'Liberation Serif','Times New Roman',serif" stroke="#3c3cff" stroke-width="0.25">0</text><text x="33.0" y="177.7" font-size="8.5" fill="#3c3cff" text-anchor="end" font-weight="normal" style="font-family:'Liberation Serif','Times New Roman',serif" stroke="#3c3cff" stroke-width="0.25">−0.4</text><text x="33.0" y="215.7" font-size="8.5" fill="#3c3cff" text-anchor="end" font-weight="normal" style="font-family:'Liberation Serif','Times New Roman',serif" stroke="#3c3cff" stroke-width="0.25">−0.8</text><text x="78.5" y="216.1" font-size="9" fill="#9a9a9a" text-anchor="end" font-weight="normal" style="font-family:'Liberation Serif','Times New Roman',serif" >20</text><text x="78.5" y="182.8" font-size="9" fill="#9a9a9a" text-anchor="end" font-weight="normal" style="font-family:'Liberation Serif','Times New Roman',serif" >25</text><text x="78.5" y="149.4" font-size="9" fill="#9a9a9a" text-anchor="end" font-weight="normal" style="font-family:'Liberation Serif','Times New Roman',serif" >30</text><text x="78.5" y="116.1" font-size="9" fill="#9a9a9a" text-anchor="end" font-weight="normal" style="font-family:'Liberation Serif','Times New Roman',serif" >35</text><text x="78.5" y="82.8" font-size="9" fill="#9a9a9a" text-anchor="end" font-weight="normal" style="font-family:'Liberation Serif','Times New Roman',serif" >40</text><text x="78.5" y="49.4" font-size="9" fill="#9a9a9a" text-anchor="end" font-weight="normal" style="font-family:'Liberation Serif','Times New Roman',serif" >45</text><text x="78.5" y="16.1" font-size="9" fill="#9a9a9a" text-anchor="end" font-weight="normal" style="font-family:'Liberation Serif','Times New Roman',serif" >50</text><text x="408.3" y="215.6" font-size="8.4" fill="#2a2a2a" text-anchor="start" font-weight="normal" style="font-family:'Liberation Serif','Times New Roman',serif" >940</text><text x="408.3" y="175.6" font-size="8.4" fill="#2a2a2a" text-anchor="start" font-weight="normal" style="font-family:'Liberation Serif','Times New Roman',serif" >950</text><text x="408.3" y="135.6" font-size="8.4" fill="#2a2a2a" text-anchor="start" font-weight="normal" style="font-family:'Liberation Serif','Times New Roman',serif" >960</text><text x="408.3" y="95.6" font-size="8.4" fill="#2a2a2a" text-anchor="start" font-weight="normal" style="font-family:'Liberation Serif','Times New Roman',serif" >970</text><text x="408.3" y="55.6" font-size="8.4" fill="#2a2a2a" text-anchor="start" font-weight="normal" style="font-family:'Liberation Serif','Times New Roman',serif" >980</text><text x="408.3" y="15.6" font-size="8.4" fill="#2a2a2a" text-anchor="start" font-weight="normal" style="font-family:'Liberation Serif','Times New Roman',serif" >990</text><text x="116.4" y="233" font-size="8.2" fill="#2a2a2a" text-anchor="middle" font-weight="normal" style="font-family:'Liberation Serif','Times New Roman',serif" stroke="#2a2a2a" stroke-width="0.2">12</text><text x="162.6" y="233" font-size="8.2" fill="#2a2a2a" text-anchor="middle" font-weight="normal" style="font-family:'Liberation Serif','Times New Roman',serif" stroke="#2a2a2a" stroke-width="0.2">18</text><text x="208.8" y="233" font-size="8.2" fill="#2a2a2a" text-anchor="middle" font-weight="normal" style="font-family:'Liberation Serif','Times New Roman',serif" stroke="#2a2a2a" stroke-width="0.2">24</text><text x="255.0" y="233" font-size="8.2" fill="#2a2a2a" text-anchor="middle" font-weight="normal" style="font-family:'Liberation Serif','Times New Roman',serif" stroke="#2a2a2a" stroke-width="0.2">30</text><text x="301.2" y="233" font-size="8.2" fill="#2a2a2a" text-anchor="middle" font-weight="normal" style="font-family:'Liberation Serif','Times New Roman',serif" stroke="#2a2a2a" stroke-width="0.2">36</text><text x="347.4" y="233" font-size="8.2" fill="#2a2a2a" text-anchor="middle" font-weight="normal" style="font-family:'Liberation Serif','Times New Roman',serif" stroke="#2a2a2a" stroke-width="0.2">42</text><text x="393.6" y="233" font-size="8.2" fill="#2a2a2a" text-anchor="middle" font-weight="normal" style="font-family:'Liberation Serif','Times New Roman',serif" stroke="#2a2a2a" stroke-width="0.2">48</text><text x="241.5" y="243.6" font-size="9.6" fill="#222" text-anchor="middle" font-weight="normal" style="font-family:'Liberation Serif','Times New Roman',serif" stroke="#222" stroke-width="0.3">Model hours</text><text transform="translate(11.3,114.5) rotate(-90)" font-size="9.5" fill="#3c3cff" stroke="#3c3cff" stroke-width="0.3" text-anchor="middle" style="font-family:'Liberation Serif','Times New Roman',serif">Vertical velocity (m s<tspan dy="-3" font-size="5.5">-1</tspan><tspan dy="3">)</tspan></text><text transform="translate(64.3,112.5) rotate(-90)" font-size="9.6" fill="#999" text-anchor="middle" style="font-family:'Liberation Serif','Times New Roman',serif">MWS (m s<tspan dy="-3.4" font-size="6">-1</tspan><tspan dy="3.4">)</tspan></text><text transform="translate(439.6,112) rotate(-90)" font-size="9.1" font-weight="bold" fill="#222" text-anchor="middle" style="font-family:'Liberation Serif','Times New Roman',serif">MSLP (hPa)</text><text x="454" y="16.7" font-size="8.3" fill="#222" text-anchor="start" font-weight="normal" style="font-family:'Liberation Serif','Times New Roman',serif" >MSLP</text><text x="454" y="36.9" font-size="8.3" fill="#222" text-anchor="start" font-weight="normal" style="font-family:'Liberation Serif','Times New Roman',serif" >MWS</text><text x="454" y="56.9" font-size="8.3" fill="#222" text-anchor="start" font-weight="normal" style="font-family:'Liberation Serif','Times New Roman',serif" >Upward vertical velocity</text><text x="454" y="77.0" font-size="8.3" fill="#222" text-anchor="start" font-weight="normal" style="font-family:'Liberation Serif','Times New Roman',serif" >Downward vertical velocity</text><text x="217.9" y="15.8" font-size="6.95" fill="#ff2b2b" text-anchor="middle" font-weight="normal" style="font-family:'Liberation Serif','Times New Roman',serif" >Upward</text><text x="217.9" y="22.9" font-size="6.95" fill="#ff2b2b" text-anchor="middle" font-weight="normal" style="font-family:'Liberation Serif','Times New Roman',serif" >Peak</text><text x="244.3" y="9.1" font-size="6.95" fill="#ff2b2b" text-anchor="middle" font-weight="normal" style="font-family:'Liberation Serif','Times New Roman',serif" >Typhoon</text><text x="244.0" y="17.0" font-size="6.95" fill="#ff2b2b" text-anchor="middle" font-weight="normal" style="font-family:'Liberation Serif','Times New Roman',serif" >Intensity</text><text x="243.1" y="24.3" font-size="6.95" fill="#ff2b2b" text-anchor="middle" font-weight="normal" style="font-family:'Liberation Serif','Times New Roman',serif" >Peak</text><text x="229.6" y="88" font-size="6.8" fill="#ff2b2b" text-anchor="middle" font-weight="bold" style="font-family:'Liberation Serif','Times New Roman',serif" >2.67 h</text><text x="200.6" y="208.9" font-size="7.05" fill="#ff2b2b" text-anchor="middle" font-weight="normal" style="font-family:'Liberation Serif','Times New Roman',serif" >Unobvious Downward Peaks</text></svg>
</body></html>
